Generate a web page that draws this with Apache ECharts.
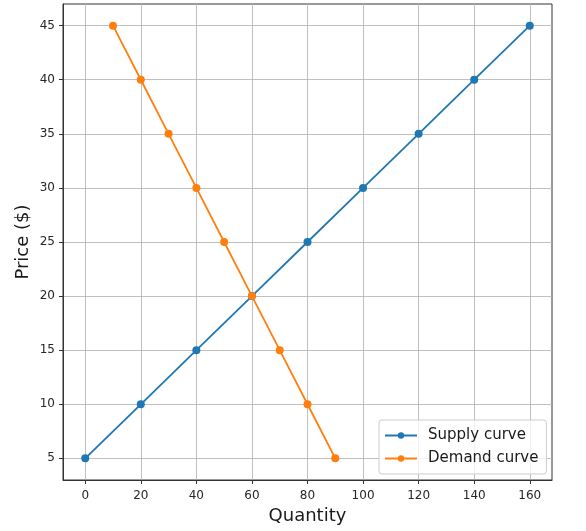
<!DOCTYPE html>
<html>
<head>
<meta charset="utf-8">
<script src="https://cdn.jsdelivr.net/npm/echarts@6/dist/echarts.min.js"></script>
<style>
  html, body { margin: 0; padding: 0; background: #fff; }
  #chart { width: 586px; height: 531px; }
</style>
</head>
<body>
<div id="chart"></div>
<script>
// data
const supplyQty = [0, 20, 40, 60, 80, 100, 120, 140, 160];
const supplyPrice = [5, 10, 15, 20, 25, 30, 35, 40, 45];
const demandQty = [10, 20, 30, 40, 50, 60, 70, 80, 90];
const demandPrice = [45, 40, 35, 30, 25, 20, 15, 10, 5];
const xTicks = [0, 20, 40, 60, 80, 100, 120, 140, 160];
const yTicks = [5, 10, 15, 20, 25, 30, 35, 40, 45];

const font = 'DejaVu Sans';
const chart = echarts.init(document.getElementById('chart'), null, { renderer: 'canvas' });

const axisCommon = {
  type: 'value',
  nameMoveOverlap: false,
  axisLine: { show: true, onZero: false, lineStyle: { color: '#333', width: 1 } },
  axisTick: { show: true, length: 4, lineStyle: { color: '#333' } },
  axisLabel: { color: '#262626', fontFamily: font, fontSize: 12 },
  splitLine: { show: true, lineStyle: { color: '#b0b0b0', width: 0.8 } },
  nameTextStyle: { color: '#1a1a1a', fontFamily: font, fontSize: 18 }
};

chart.setOption({
  animation: false,
  grid: {
    left: 63, top: 4, width: 489, height: 476,
    show: true, borderColor: '#333', borderWidth: 1,
    containLabel: false, outerBoundsMode: 'none'
  },
  xAxis: Object.assign({}, axisCommon, {
    min: -8, max: 168,
    name: 'Quantity', nameLocation: 'middle', nameGap: 27,
    axisTick: Object.assign({}, axisCommon.axisTick, { customValues: xTicks }),
    axisLabel: Object.assign({}, axisCommon.axisLabel, { customValues: xTicks, margin: 10 })
  }),
  yAxis: Object.assign({}, axisCommon, {
    min: 3, max: 47,
    name: 'Price ($)', nameLocation: 'middle', nameGap: 31,
    axisTick: Object.assign({}, axisCommon.axisTick, { customValues: yTicks }),
    axisLabel: Object.assign({}, axisCommon.axisLabel, { customValues: yTicks, margin: 8 })
  }),
  legend: {
    orient: 'vertical',
    left: 379, top: 420,
    padding: [8, 8, 8, 5],
    itemWidth: 32, itemHeight: 8, itemGap: 8,
    backgroundColor: 'rgba(255,255,255,0.8)',
    borderColor: '#cccccc', borderWidth: 1, borderRadius: 3,
    textStyle: { color: '#1a1a1a', fontFamily: font, fontSize: 15, padding: [0, 0, 0, 6] },
    data: ['Supply curve', 'Demand curve']
  },
  series: [
    {
      name: 'Supply curve', type: 'line',
      data: supplyQty.map((q, i) => [q, supplyPrice[i]]),
      symbol: 'circle', symbolSize: 8,
      itemStyle: { color: '#1f77b4' },
      lineStyle: { color: '#1f77b4', width: 1.8 }
    },
    {
      name: 'Demand curve', type: 'line',
      data: demandQty.map((q, i) => [q, demandPrice[i]]),
      symbol: 'circle', symbolSize: 8,
      itemStyle: { color: '#ff7f0e' },
      lineStyle: { color: '#ff7f0e', width: 1.8 }
    }
  ]
});
</script>
</body>
</html>
